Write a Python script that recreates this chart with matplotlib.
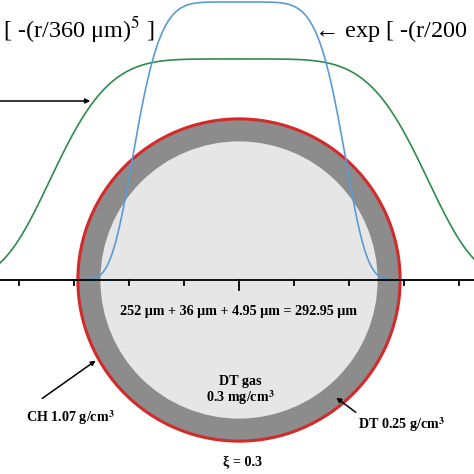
import numpy as np
import matplotlib
matplotlib.use("Agg")
import matplotlib.pyplot as plt
from matplotlib.patches import Circle

plt.rcParams['mathtext.fontset'] = 'stix'

# data (μm)
r_gas, t_ice, t_ch = 252.0, 36.0, 4.95
tick_pos = [-400, -300, -200, -100, 0, 100, 200, 300, 400]
green_w, green_n, green_amp = 360.0, 5, 0.795
blue_w, blue_n, blue_amp = 200.0, 6, 1.0

PX = 100/55.0  # μm per pixel
W = H = 474
x0 = -239*PX; x1 = (W-239)*PX
y0 = -(H-280)*PX; y1 = 280*PX

fig = plt.figure(figsize=(4.74, 4.74), dpi=100)
ax = fig.add_axes([0, 0, 1, 1])
ax.set_xlim(x0, x1); ax.set_ylim(y0, y1)
ax.axis('off')
serif = ['Liberation Serif', 'DejaVu Serif']

R = r_gas + t_ice + t_ch
ax.add_patch(Circle((0, 0), R, facecolor='#8c8c8c', edgecolor='#d42a2a', lw=2.2, zorder=1))
ax.add_patch(Circle((0, 0), r_gas, facecolor='#e6e6e6', edgecolor='none', zorder=2))

ax2 = fig.add_axes([0, 0, 1, 1], sharex=ax)
ax2.set_ylim(-194/278, 280/278)
ax2.axis('off')
ax2.patch.set_alpha(0)
r = np.linspace(x0, x1, 1000)
ax2.plot(r, green_amp*np.exp(-(np.abs(r)/green_w)**green_n), color='#2e8b4a', lw=1.2, zorder=5)
ax2.plot(r, blue_amp*np.exp(-(np.abs(r)/blue_w)**blue_n), color='#5b9bd5', lw=1.2, zorder=5)
ax2.axhline(0, color='black', lw=1.3, zorder=6)
for t in tick_pos:
    L = (10 if t == 0 else 5)/278
    ax2.plot([t, t], [0, -L], color='black', lw=1.3, zorder=6)

def fp(x, y):
    return (x/W, 1-y/H)

fig.text(*fp(155, 30), r"exp [ -(r/360 μm)$^{5}$ ]", ha='right', va='center', fontsize=17.5, family=serif)
fig.text(*fp(314, 30), r"← exp [ -(r/200 μm)$^{6}$ ]", ha='left', va='center', fontsize=17.5, family=serif)
ax.annotate('', xy=fp(93, 101), xytext=fp(-5, 101), xycoords='figure fraction', textcoords='figure fraction',
            arrowprops=dict(arrowstyle='-|>', color='black', lw=1.1, mutation_scale=7))

kw = dict(fontsize=10.2, fontweight='bold', family=serif)
fig.text(*fp(239, 311), "252 μm + 36 μm + 4.95 μm = 292.95 μm", ha='center', va='center', **kw)
fig.text(*fp(240, 381), "DT gas", ha='center', va='center', **kw)
fig.text(*fp(240, 398), "0.3 mg/cm$^{\\mathbf{3}}$", ha='center', va='center', **kw)
fig.text(*fp(70, 418), "CH 1.07 g/cm$^{\\mathbf{3}}$", ha='center', va='center', **kw)
fig.text(*fp(402, 425), "DT 0.25 g/cm$^{\\mathbf{3}}$", ha='center', va='center', **kw)
fig.text(*fp(243, 463), "ξ = 0.3", ha='center', va='center', **kw)
ax.annotate('', xy=fp(98, 359), xytext=fp(40, 400), xycoords='figure fraction', textcoords='figure fraction',
            arrowprops=dict(arrowstyle='-|>', color='black', lw=1.1, mutation_scale=7))
ax.annotate('', xy=fp(334, 396), xytext=fp(358, 414), xycoords='figure fraction', textcoords='figure fraction',
            arrowprops=dict(arrowstyle='-|>', color='black', lw=1.1, mutation_scale=7))

fig.savefig('out.png', dpi=100)
